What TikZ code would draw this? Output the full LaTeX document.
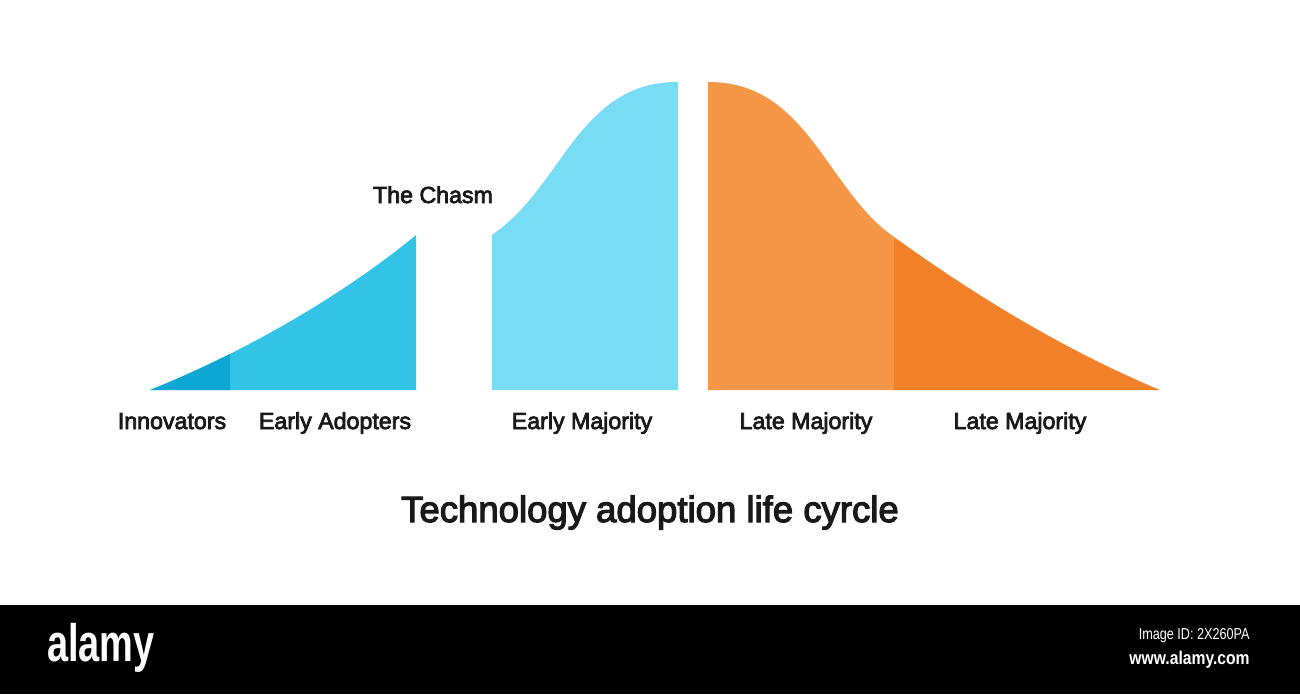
\documentclass[tikz,border=0pt]{standalone}
\usepackage{fontspec}
\setmainfont{Liberation Sans}
\newfontfamily\labelfont{Liberation Sans}[FakeBold=3.2]
\usetikzlibrary{positioning}

\definecolor{innocol}{HTML}{0EA6D2}
\definecolor{adoptcol}{HTML}{33C3E7}
\definecolor{earlycol}{HTML}{78DCF4}
\definecolor{latecol}{HTML}{F69647}
\definecolor{lagcol}{HTML}{F2812A}

\tikzset{
  grouplabel/.style={font=\labelfont\fontsize{13.2}{15}\selectfont, text=black!90, inner sep=0pt, anchor=base},
  titlelabel/.style={font=\labelfont\fontsize{20.8}{22}\selectfont, text=black!90, inner sep=0pt, anchor=base},
  barlabel/.style={text=white, inner sep=0pt}
}

\begin{document}
\begin{tikzpicture}[x=0.02cm,y=-0.02cm]
		\def\base{390}
		\useasboundingbox (0,0) rectangle (1300,694);
		\fill[white] (0,0) rectangle (1300,605);
		% left tail: innovators and early adopters
		\begin{scope}
			\fill[adoptcol] (150,\base) .. controls (250,350) and (350,290) .. (416,235) -- (416,\base) -- cycle;
			\clip (140,200) rectangle (230,\base);
			\fill[innocol] (150,\base) .. controls (250,350) and (350,290) .. (416,235) -- (416,\base) -- cycle;
		\end{scope}
		% the hump
		\fill[earlycol] (492,235) .. controls (516,218) and (531,200) .. (556,165)
			.. controls (591,115) and (621,82) .. (678,82) -- (678,\base) -- (492,\base) -- cycle;
		\fill[latecol] (708,82) .. controls (765,82) and (795,115) .. (830,165)
			.. controls (855,200) and (870,220) .. (894,237) -- (894,\base) -- (708,\base) -- cycle;
		% right tail
		\fill[lagcol] (894,237) .. controls (940,270) and (1040,340) .. (1160,\base) -- (894,\base) -- cycle;

		\node[grouplabel] (chasm) at (433,203) {The Chasm};
		\node[grouplabel] (innov) at (172,429) {Innovators};
		\node[grouplabel] (adopt) at (335,429) {Early Adopters};
		\node[grouplabel] (early) at (582,429) {Early Majority};
		\node[grouplabel] (late) at (806,429) {Late Majority};
		\node[grouplabel] (lag) at (1020,429) {Late Majority};
		\node[titlelabel] (title) at (650,522) {Technology adoption life cyrcle};

		% stock bar
		\fill[black] (0,605) rectangle (1300,694);
		\node[barlabel, font=\bfseries\fontsize{30}{30}\selectfont] (brand) at (101,648) {\scalebox{0.72}[1]{alamy}};
		\node[barlabel, font=\fontsize{9}{10}\selectfont, anchor=east] (imgid) at (1250,636) {\scalebox{0.8}[1]{Image ID: 2X260PA}};
		\node[barlabel, font=\bfseries\fontsize{10.5}{12}\selectfont, anchor=east] (site) at (1250,660) {\scalebox{0.85}[1]{www.alamy.com}};
	\end{tikzpicture}
\end{document}
